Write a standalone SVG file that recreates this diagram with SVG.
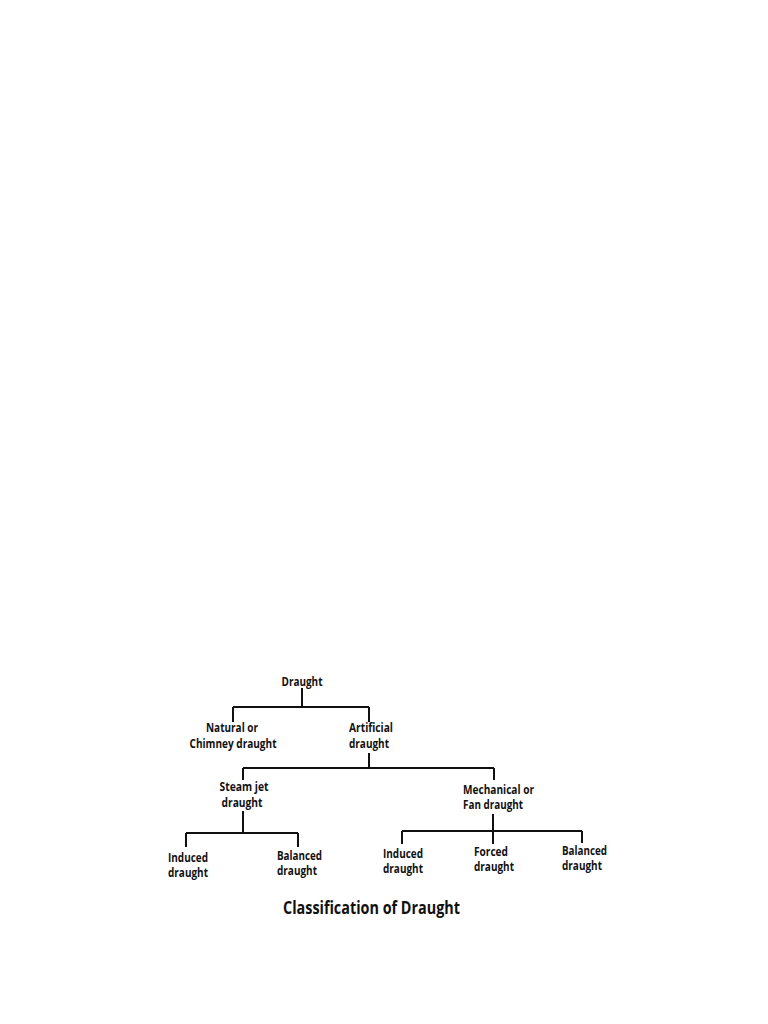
<svg xmlns="http://www.w3.org/2000/svg" width="768" height="1024" viewBox="0 0 768 1024">
<style>
.t{font-family:"Open Sans","Liberation Sans",sans-serif;font-weight:bold;font-size:11.5px;fill:#111}
.c{fill:none;stroke:#111;stroke-width:2}
.title{font-family:"Open Sans","Liberation Sans",sans-serif;font-weight:bold;font-size:17px;fill:#111}
</style>
<rect width="768" height="1024" fill="#fff"/>
<g id="connectors">
<path class="c" d="M302 688V707M233 707H369M233 707V722M369 707V722"/>
<path class="c" d="M369 753V768M243 768H494M243 768V780M494 768V780"/>
<path class="c" d="M243 811V833M186 833H298M186 833V847M298 833V847"/>
<path class="c" d="M493 814V831M402 831H582M402 831V844M493 831V844M582 831V843"/>
</g>
<g id="n-draught"><text class="t" x="302" y="686" text-anchor="middle" textLength="41" lengthAdjust="spacingAndGlyphs">Draught</text></g>
<g id="n-natural">
<text class="t" x="232" y="732" text-anchor="middle" textLength="52" lengthAdjust="spacingAndGlyphs">Natural or</text>
<text class="t" x="233" y="748" text-anchor="middle" textLength="87" lengthAdjust="spacingAndGlyphs">Chimney draught</text>
</g>
<g id="n-artificial">
<text class="t" x="349" y="732" textLength="44" lengthAdjust="spacingAndGlyphs">Artificial</text>
<text class="t" x="349" y="748" textLength="40" lengthAdjust="spacingAndGlyphs">draught</text>
</g>
<g id="n-steam">
<text class="t" x="244" y="791" text-anchor="middle" textLength="49" lengthAdjust="spacingAndGlyphs">Steam jet</text>
<text class="t" x="242" y="807" text-anchor="middle" textLength="41" lengthAdjust="spacingAndGlyphs">draught</text>
</g>
<g id="n-mechanical">
<text class="t" x="463" y="794" textLength="71" lengthAdjust="spacingAndGlyphs">Mechanical or</text>
<text class="t" x="463" y="809" textLength="60" lengthAdjust="spacingAndGlyphs">Fan draught</text>
</g>
<g id="n-induced1">
<text class="t" x="168" y="862" textLength="40" lengthAdjust="spacingAndGlyphs">Induced</text>
<text class="t" x="168" y="877" textLength="40" lengthAdjust="spacingAndGlyphs">draught</text>
</g>
<g id="n-balanced1">
<text class="t" x="277" y="860" textLength="45" lengthAdjust="spacingAndGlyphs">Balanced</text>
<text class="t" x="277" y="875" textLength="40" lengthAdjust="spacingAndGlyphs">draught</text>
</g>
<g id="n-induced2">
<text class="t" x="383" y="858" textLength="40" lengthAdjust="spacingAndGlyphs">Induced</text>
<text class="t" x="383" y="873" textLength="40" lengthAdjust="spacingAndGlyphs">draught</text>
</g>
<g id="n-forced">
<text class="t" x="474" y="856" textLength="34" lengthAdjust="spacingAndGlyphs">Forced</text>
<text class="t" x="474" y="871" textLength="40" lengthAdjust="spacingAndGlyphs">draught</text>
</g>
<g id="n-balanced2">
<text class="t" x="562" y="855" textLength="45" lengthAdjust="spacingAndGlyphs">Balanced</text>
<text class="t" x="562" y="870" textLength="40" lengthAdjust="spacingAndGlyphs">draught</text>
</g>
<text class="title" x="283" y="914" textLength="177" lengthAdjust="spacingAndGlyphs">Classification of Draught</text>
</svg>
